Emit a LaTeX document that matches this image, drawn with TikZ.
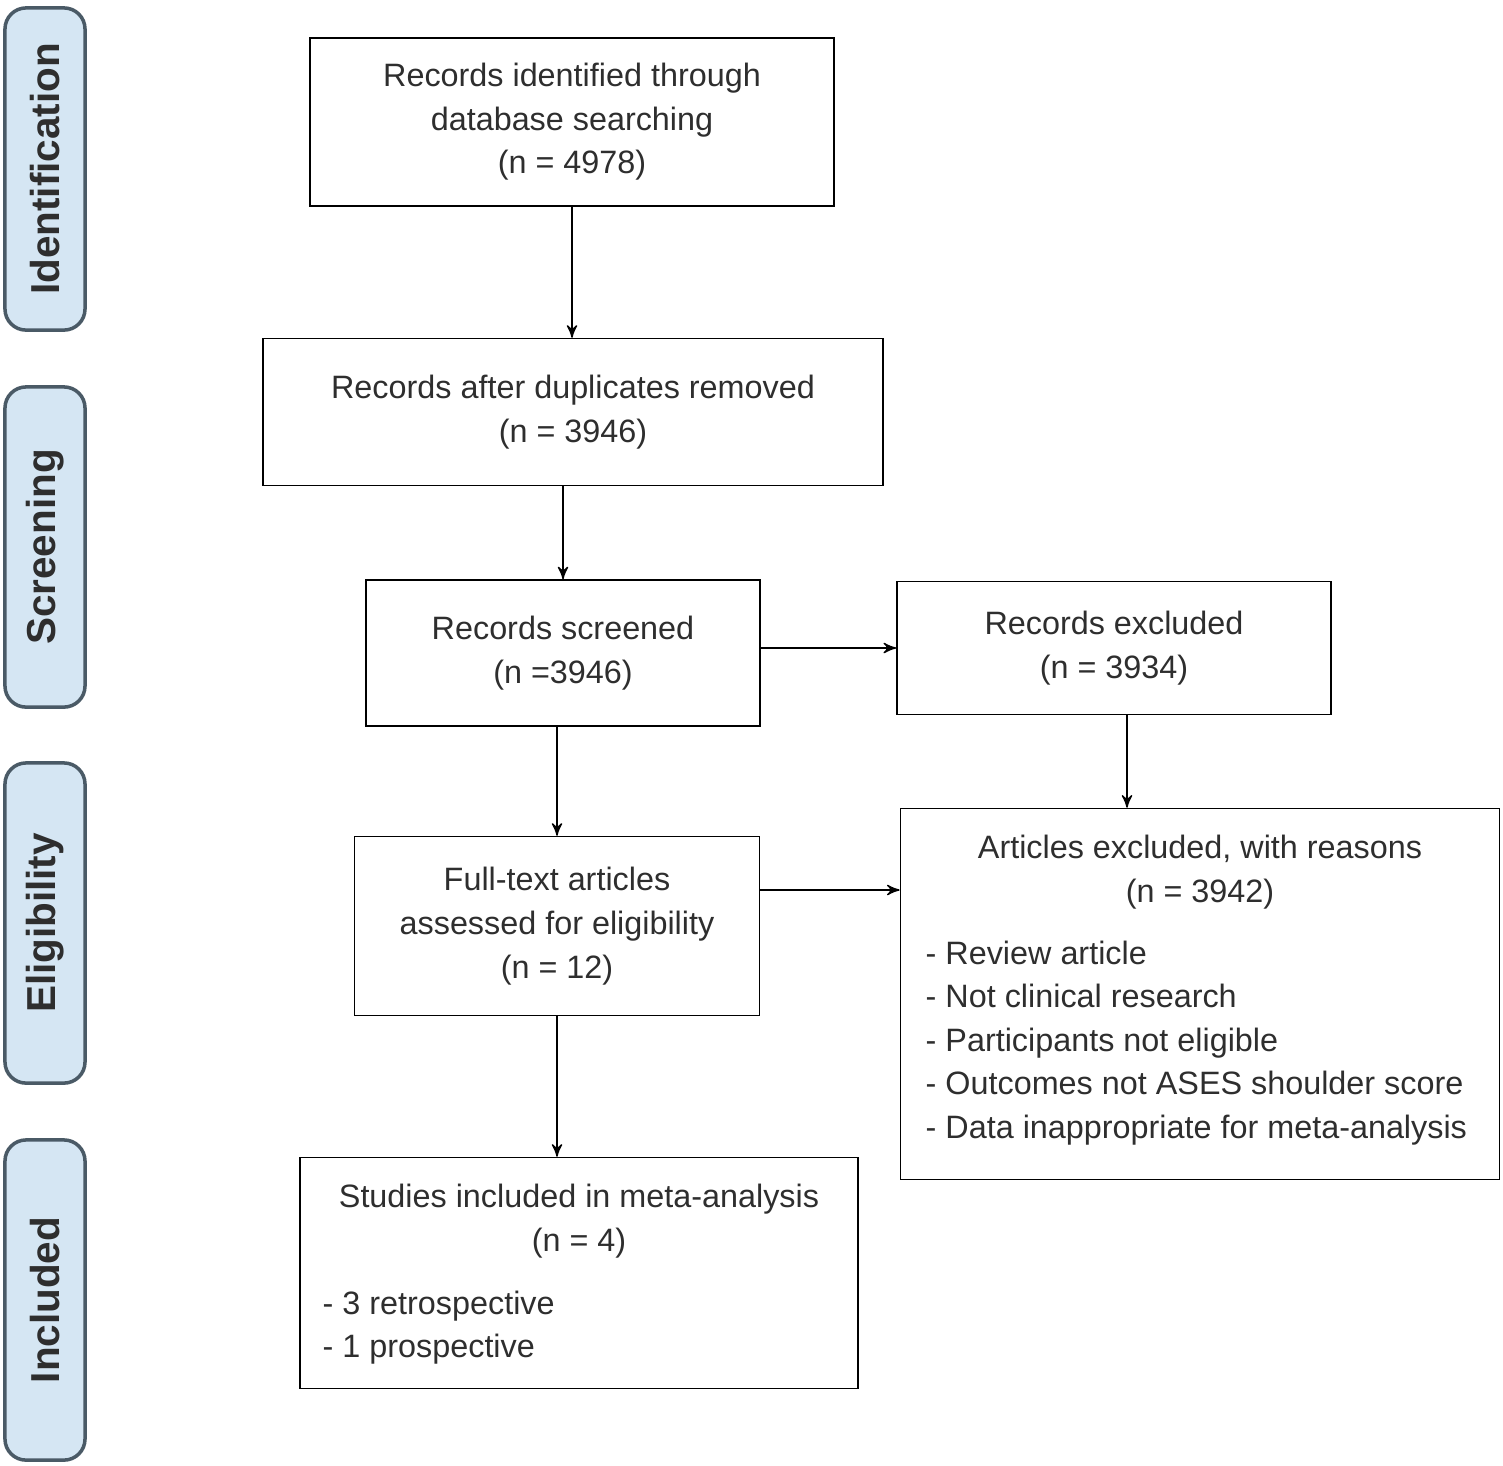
\documentclass[tikz,border=0pt]{standalone}
\usepackage{fontspec}
\setmainfont{Liberation Sans}
\usetikzlibrary{arrows}
\usetikzlibrary{calc}
\definecolor{stagefill}{HTML}{D5E6F3}
\definecolor{stageline}{HTML}{4A5A66}
\definecolor{ink}{HTML}{2E2E2E}
\tikzset{
  box/.style={draw,thin,align=center,inner sep=0pt,text=ink,font=\fontsize{9.2}{12.4}\selectfont},
  stage/.style={draw=stageline,fill=stagefill,rounded corners=6pt,line width=1pt,minimum width=0.8cm,inner sep=0pt},
  stagetext/.style={rotate=90,font=\fontsize{11.5}{13}\selectfont\bfseries,text=ink},
  txt/.style={text=ink,font=\fontsize{9.2}{12.4}\selectfont,inner sep=0pt},
}
\begin{document}
\begin{tikzpicture}[x=0.01cm,y=-0.01cm,>=stealth']
\useasboundingbox (0,0) rectangle (1503,1465);
% stages
\node[stage,minimum height=3.22cm](s1)at(45,169){};
\node[stagetext]at(s1){Identification};
\node[stage,minimum height=3.2cm](s2)at(45,547){};
\node[stagetext]at(s2){Screening};
\node[stage,minimum height=3.2cm](s3)at(45,923){};
\node[stagetext]at(s3){Eligibility};
\node[stage,minimum height=3.2cm](s4)at(45,1300){};
\node[stagetext]at(s4){Included};
% boxes
\node[box,minimum width=5.24cm,minimum height=1.68cm](A)at(572,122){Records identified through\\database searching\\(n = 4978)};
\node[box,minimum width=6.2cm,minimum height=1.47cm](B)at(573,412){Records after duplicates removed\\(n = 3946)};
\node[box,minimum width=3.94cm,minimum height=1.46cm](C)at(563,653){Records screened\\(n =3946)};
\node[box,minimum width=4.34cm,minimum height=1.33cm](D)at(1114,648){Records excluded\\(n = 3934)};
\node[box,minimum width=4.05cm,minimum height=1.79cm](E)at(557,926){Full-text articles\\assessed for eligibility\\(n = 12)};
\node[box,minimum width=5.99cm,minimum height=3.71cm](F)at(1200,994){};
\node[box,minimum width=5.58cm,minimum height=2.31cm](G)at(579,1273){};
% box texts
\node[txt,align=center](Ft)at(1200,872){Articles excluded, with reasons\\(n = 3942)};
\node[txt,align=left,anchor=north west](Fl)at(925,940){- Review article\\- Not clinical research\\- Participants not eligible\\- Outcomes not ASES shoulder score\\- Data inappropriate for meta-analysis};
\node[txt,align=center](Gt)at(579,1221){Studies included in meta-analysis\\(n = 4)};
\node[txt,align=left,anchor=north west](Gl)at(322,1290){- 3 retrospective\\- 1 prospective};
% arrows
\draw[->](A.south)--(A.south|-B.north);
\draw[->](C.north|-B.south)--(C.north);
\draw[->](C.east|-D.west)--(D.west);
\draw[->]([xshift=0.13cm]D.south)--([xshift=0.13cm]D.south|-F.north);
\draw[->](E.north|-C.south)--(E.north);
\draw[->]([yshift=0.36cm]E.east)--([yshift=0.36cm]E.east-|F.west);
\draw[->](E.south)--(E.south|-G.north);
\end{tikzpicture}
\end{document}
